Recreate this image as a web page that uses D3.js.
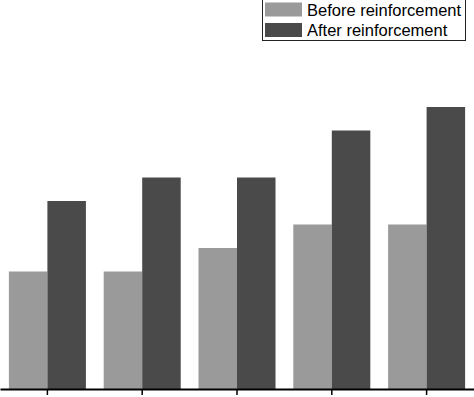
<!DOCTYPE html>
<html>
<head>
<meta charset="utf-8">
<script src="https://cdn.jsdelivr.net/npm/d3@7"></script>
<style>
  html, body { margin: 0; padding: 0; background: #fff; }
  svg { display: block; }
  text { font-family: "Liberation Sans", Arial, sans-serif; }
</style>
</head>
<body>
<svg id="chart" width="474" height="397"></svg>
<script>
// values (no axis labels, units of one bar step)
var groups = ["G1", "G2", "G3", "G4", "G5"];
var seriesNames = ["Before reinforcement", "After reinforcement"];
var before = [5, 5, 6, 7, 7];
var after = [8, 9, 9, 11, 12];
var colors = ["#9a9a9a", "#4a4a4a"];

var width = 474, height = 397;
var baseY = 389;

var svg = d3.select("#chart");

var x = d3.scaleBand()
    .domain(groups)
    .range([0, width])
    .padding(0);

var xInner = d3.scaleBand()
    .domain(seriesNames)
    .range([0, x.bandwidth()])
    .paddingInner(0)
    .paddingOuter(0.231);

var y = d3.scaleLinear()
    .domain([0, 16])
    .range([baseY, baseY - 23.5 * 16]);

var rows = groups.map(function(g, i) {
  return { group: g, values: [before[i], after[i]] };
});

var g = svg.selectAll(".grp")
  .data(rows)
  .enter().append("g")
    .attr("class", "grp")
    .attr("transform", function(d) { return "translate(" + x(d.group) + ",0)"; });

g.selectAll("rect")
  .data(function(d) { return d.values.map(function(v, j) { return { name: seriesNames[j], value: v, j: j }; }); })
  .enter().append("rect")
    .attr("x", function(d) { return xInner(d.name); })
    .attr("width", xInner.bandwidth())
    .attr("y", function(d) { return y(d.value); })
    .attr("height", function(d) { return y(0) - y(d.value); })
    .attr("fill", function(d) { return colors[d.j]; });

var axis = svg.append("g")
    .attr("transform", "translate(0," + baseY + ")")
    .call(d3.axisBottom(x).tickSize(6).tickSizeOuter(0).tickFormat(""));
axis.select(".domain").attr("stroke", "#000").attr("stroke-width", 2);
axis.selectAll(".tick line").attr("stroke", "#000").attr("stroke-width", 1.5);

// legend
var legend = svg.append("g").attr("transform", "translate(262,0)");
legend.append("rect")
    .attr("x", 0.5).attr("y", -2)
    .attr("width", 203).attr("height", 42.5)
    .attr("fill", "#fff")
    .attr("stroke", "#222")
    .attr("stroke-width", 1);

seriesNames.forEach(function(name, i) {
  var row = legend.append("g").attr("transform", "translate(3," + (2.5 + i * 20.5) + ")");
  row.append("rect")
      .attr("width", 37).attr("height", 14)
      .attr("fill", colors[i]);
  row.append("text")
      .attr("x", 42)
      .attr("y", 13.3)
      .attr("font-size", 16.5)
      .attr("fill", "#000")
      .text(name);
});
</script>
</body>
</html>
